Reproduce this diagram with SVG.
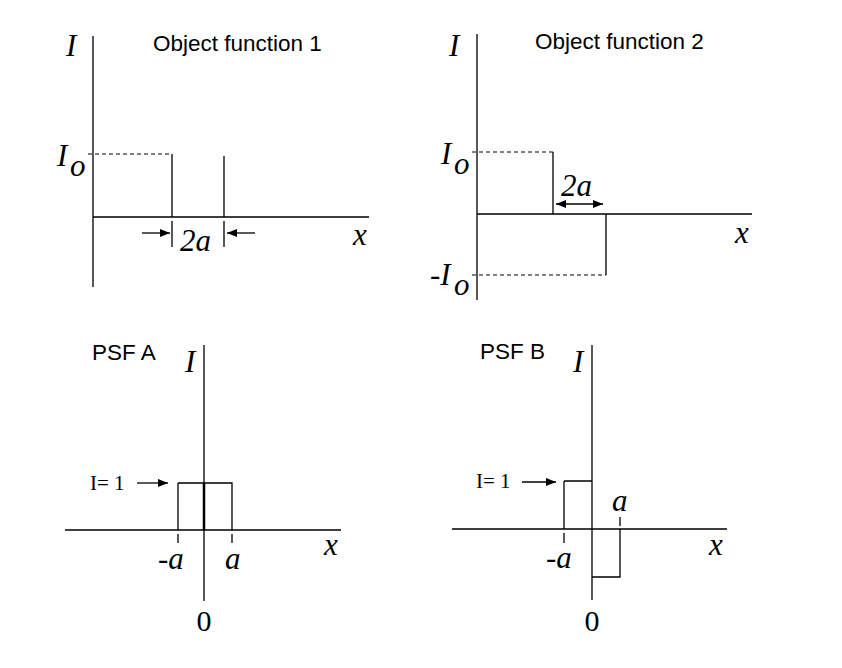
<svg xmlns="http://www.w3.org/2000/svg" width="842" height="668" viewBox="0 0 842 668">
<style>
.ln{stroke:#000;stroke-width:1.3;fill:none}
.ds{stroke:#000;stroke-width:1;stroke-dasharray:4,3;fill:none}
.it{font-family:"Liberation Serif","DejaVu Serif","Times New Roman",serif;font-style:italic;font-size:31px}
.rm{font-family:"Liberation Serif","Times New Roman",serif;font-size:30px}
.sm{font-family:"Liberation Serif","Times New Roman",serif;font-size:21px}
.ti{font-family:"Liberation Sans",Arial,sans-serif;font-size:22.5px}
</style>
<defs>
<marker id="ah" viewBox="0 0 10 10" refX="10" refY="5" markerWidth="10" markerHeight="10" markerUnits="userSpaceOnUse" orient="auto-start-reverse"><path d="M0,1L10,5L0,9z" fill="#000"/></marker>
</defs>
<rect width="842" height="668" fill="#fff"/>
<g id="panel1">
<path class="ln" d="M93,36V287M93,217H369M172,154V217M224,156V217M172,221V247M224,221V247"/>
<path class="ds" d="M88,154H172"/>
<path class="ln" d="M142,233H170" marker-end="url(#ah)"/>
<path class="ln" d="M255,233H227" marker-end="url(#ah)"/>
<text class="it" x="66" y="56">I</text>
<text class="it" x="57" y="166">I</text><text class="it" x="70" y="176" font-size="24">o</text>
<text class="it" x="180" y="251">2a</text>
<text class="it" x="353" y="245">x</text>
<text class="ti" x="153" y="51">Object function 1</text>
</g>
<g id="panel2">
<path class="ln" d="M477,34V300M477,214H752M553,152V214M606,214V275"/>
<path class="ds" d="M472,152H553M472,275H606"/>
<path class="ln" d="M556,204H603" marker-start="url(#ah)" marker-end="url(#ah)"/>
<text class="it" x="449" y="56">I</text>
<text class="it" x="441" y="164">I</text><text class="it" x="454" y="174" font-size="24">o</text>
<text class="it" x="430" y="285">-I</text><text class="it" x="454" y="295" font-size="24">o</text>
<text class="it" x="561" y="196">2a</text>
<text class="it" x="735" y="243">x</text>
<text class="ti" x="535" y="49">Object function 2</text>
</g>
<g id="panel3">
<path class="ln" d="M204,345V601M65,530H341M178,483H232V530M178,483V530M178,534V543M232,534V543"/>
<path stroke="#000" stroke-width="2.5" d="M204,483V530"/>
<path class="ln" d="M137,483H168" marker-end="url(#ah)"/>
<text class="it" x="185" y="372">I</text>
<text class="sm" x="90" y="490">I= 1</text>
<text class="it" x="158" y="569">-a</text>
<text class="it" x="225" y="569">a</text>
<text class="rm" x="204" y="631" text-anchor="middle">0</text>
<text class="it" x="324" y="555">x</text>
<text class="ti" x="92" y="360">PSF A</text>
</g>
<g id="panel4">
<path class="ln" d="M592,345V600M452,529H727M564,481H592M564,481V529M592,577H620V529M564,533V543M620,517V526"/>
<path class="ln" d="M522,482H556" marker-end="url(#ah)"/>
<text class="it" x="573" y="372">I</text>
<text class="sm" x="476" y="488">I= 1</text>
<text class="it" x="546" y="568">-a</text>
<text class="it" x="612" y="511">a</text>
<text class="rm" x="592" y="631" text-anchor="middle">0</text>
<text class="it" x="709" y="555">x</text>
<text class="ti" x="480" y="359">PSF B</text>
</g>
</svg>
